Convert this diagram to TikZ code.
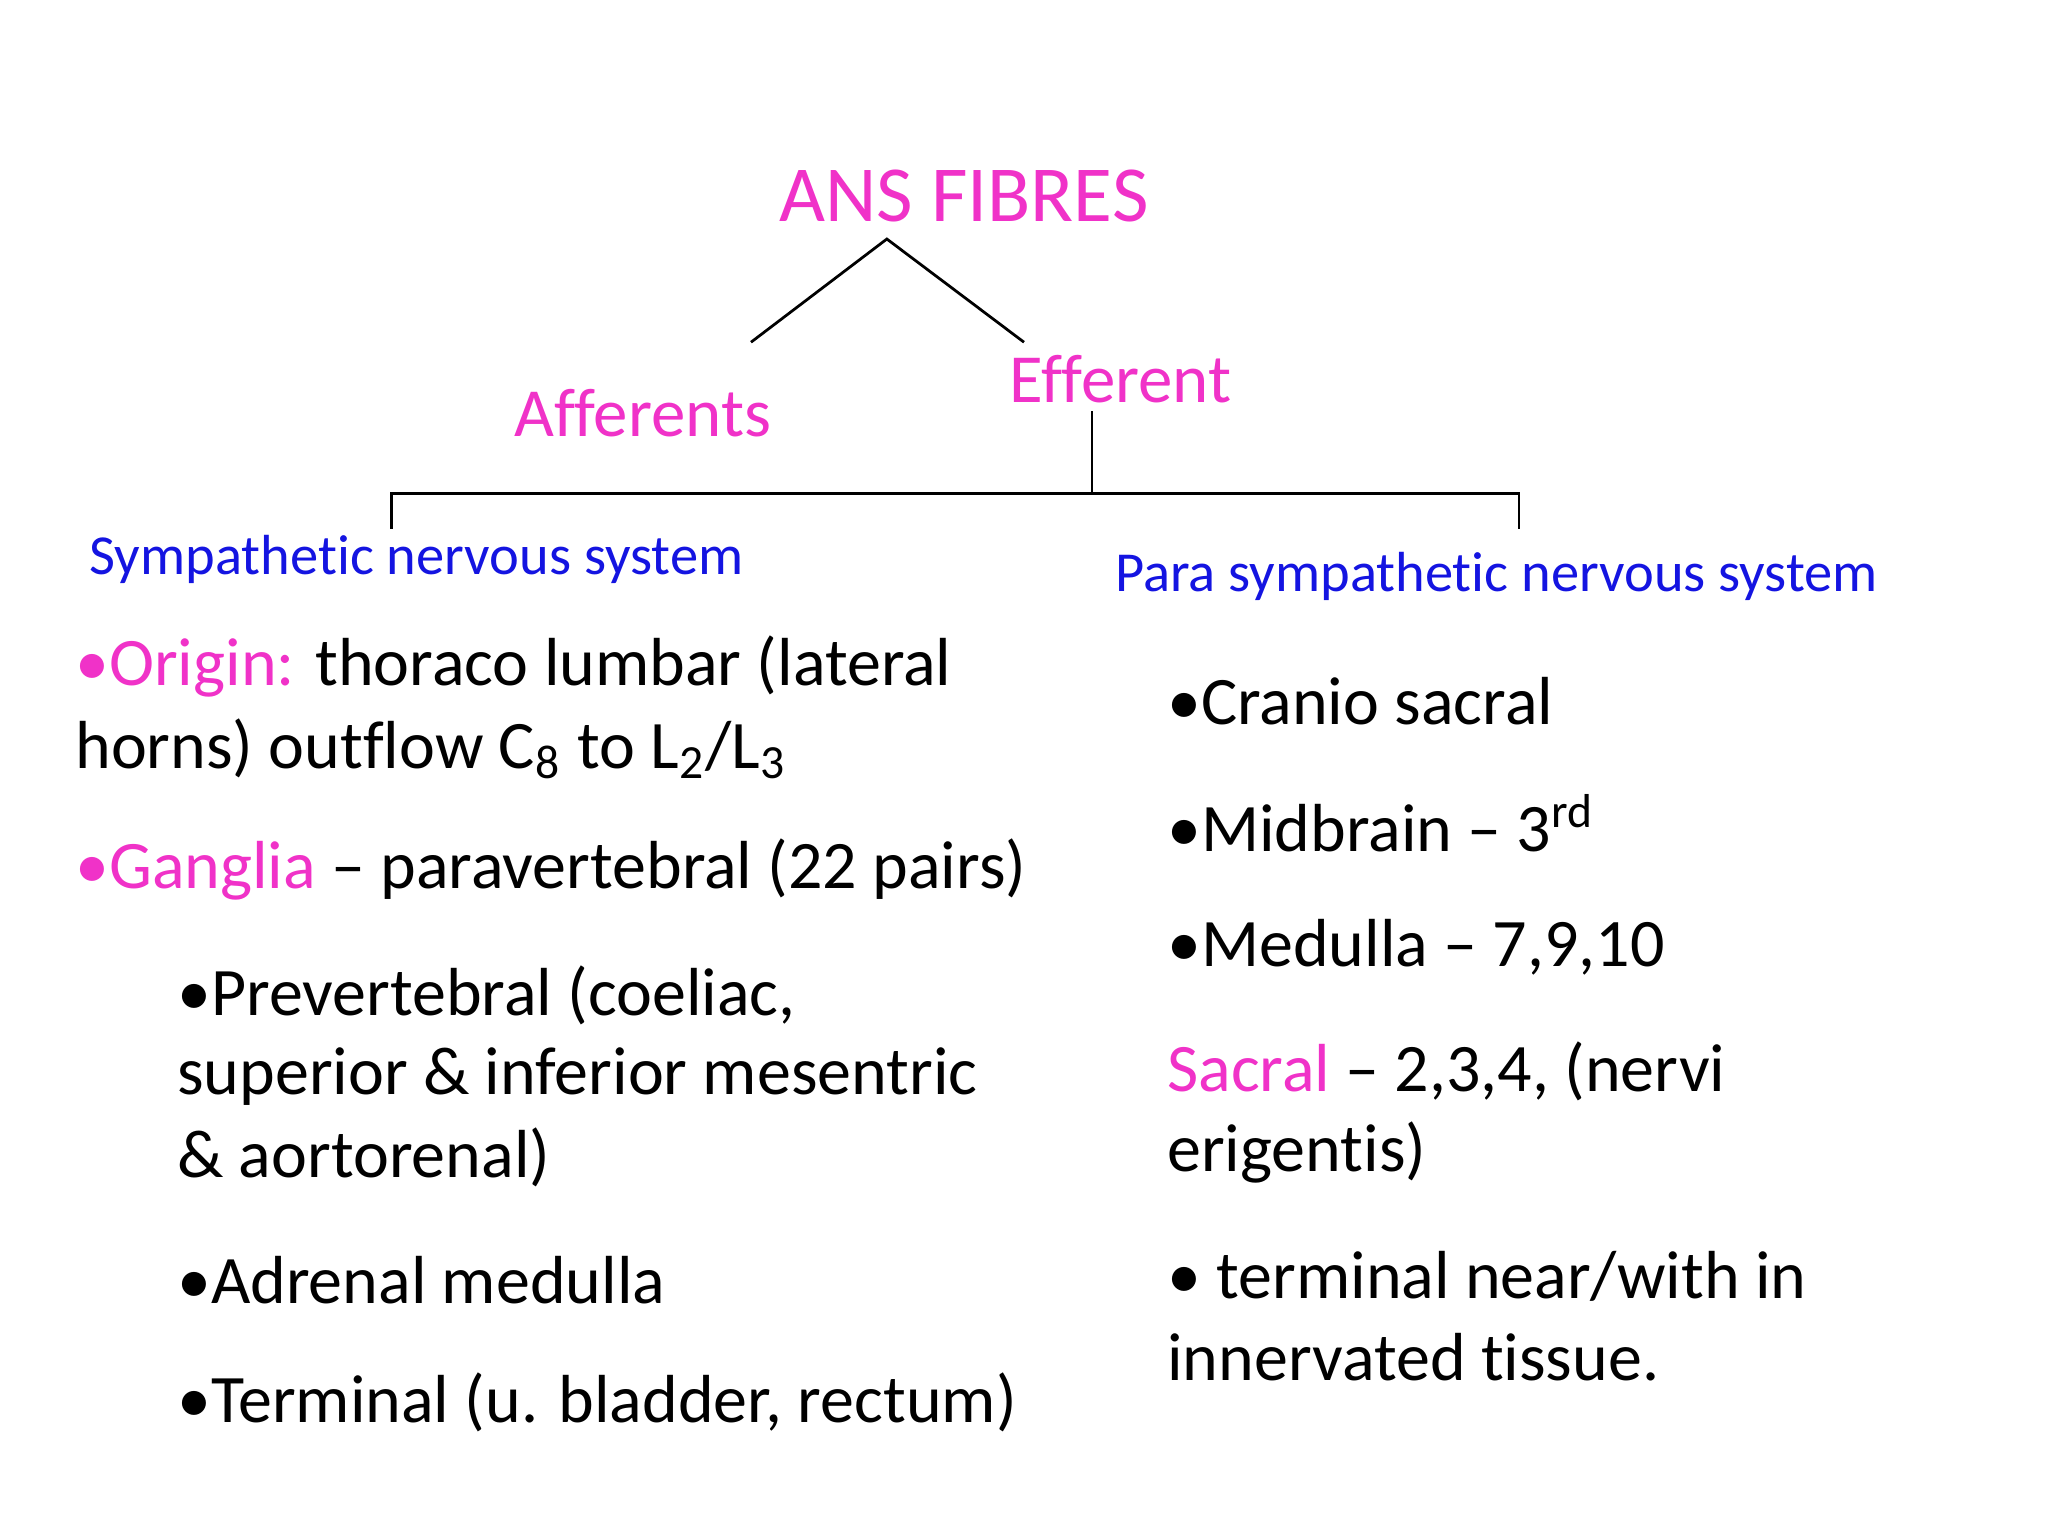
\documentclass[tikz,border=0pt]{standalone}
\usepackage{fontspec}
\setmainfont{Carlito}[Ligatures={NoCommon}]
\definecolor{pk}{RGB}{240,50,200}
\definecolor{bl}{RGB}{20,20,225}
\begin{document}
\begin{tikzpicture}[x=0.01cm,y=-0.01cm,
  txt/.style={anchor=west,inner sep=0pt,font=\fontsize{14.8}{18}\selectfont},
  head/.style={inner sep=0pt,text=pk,font=\fontsize{15}{18}\selectfont},
  sys/.style={anchor=west,inner sep=0pt,text=bl,font=\fontsize{12.3}{15}\selectfont},
  ln/.style={draw=black,line width=0.6pt}]
\useasboundingbox (0,0) rectangle (1568,1176);
\node[head,font=\fontsize{17.3}{21}\selectfont] (ans) at (738,150) {ANS FIBRES};
\node[head] (aff) at (492,316) {Afferents};
\node[head] (eff) at (858,290) {Efferent};
\coordinate (top) at (679,183);
\coordinate (la) at (575,262);
\coordinate (ra) at (784,262);
\draw[ln] (la) -- (top) -- (ra);
\coordinate (e1) at (836,315);
\coordinate (e2) at (836,378);
\coordinate (h1) at (300,378);
\coordinate (h2) at (1163,378);
\coordinate (d1) at (300,405);
\coordinate (d2) at (1163,405);
\draw[ln] (e1) -- (e2);
\draw[ln] (d1) -- (h1) -- (h2) -- (d2);
\node[sys] (sym) at (68,428) {Sympathetic nervous system};
\node[sys] (para) at (853,441) {Para sympathetic nervous system};
\node[txt] (o1) at (57,510) {\textcolor{pk}{•Origin:} thoraco lumbar (lateral};
\node[txt] (o2) at (57,573) {horns) outflow C\textsubscript{8} to L\textsubscript{2}/L\textsubscript{3}};
\node[txt] (g1) at (57,666) {\textcolor{pk}{•Ganglia} – paravertebral (22 pairs)};
\node[txt] (p1) at (135,762) {•Prevertebral (coeliac,};
\node[txt] (p2) at (135,824) {superior \& inferior mesentric};
\node[txt] (p3) at (135,886) {\& aortorenal)};
\node[txt] (ad) at (135,980) {•Adrenal medulla};
\node[txt] (te) at (135,1074) {•Terminal (u. bladder, rectum)};
\node[txt] (r1) at (893,537) {•Cranio sacral};
\node[txt] (r2) at (893,630) {•Midbrain – 3\textsuperscript{rd}};
\node[txt] (r3) at (893,725) {•Medulla – 7,9,10};
\node[txt] (r4) at (893,820) {\textcolor{pk}{Sacral} – 2,3,4, (nervi};
\node[txt] (r5) at (893,882) {erigentis)};
\node[txt] (r6) at (893,977) {• terminal near/with in};
\node[txt] (r7) at (893,1039) {innervated tissue.};
\end{tikzpicture}
\end{document}
